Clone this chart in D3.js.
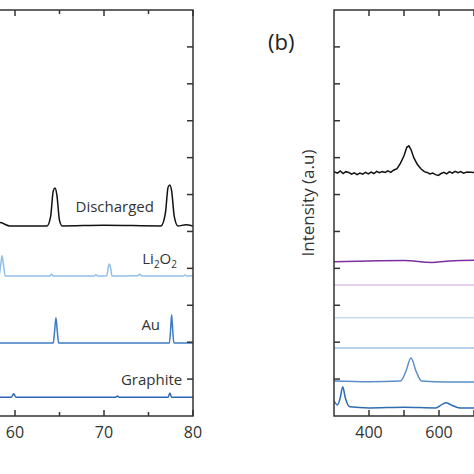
<!DOCTYPE html>
<html><head><meta charset="utf-8">
<script src="https://cdn.jsdelivr.net/npm/d3@7"></script>
<style>body{margin:0;background:#fff}</style>
</head><body>
<svg id="chart" width="474" height="474"></svg>
<script>
// panel (a) XRD, 2theta vs intensity (offset, a.u.)
const discharged = [[50,5.15],[57.6,5.16],[58.0,5.2],[58.4,5.24],[58.8,5.2],[59.4,5.15],[63.6,5.15],[64.0,5.4],[64.3,6.1],[64.5,6.18],[64.7,6.0],[65.0,5.3],[65.3,5.15],[70,5.17],[76.4,5.15],[76.9,5.5],[77.2,6.2],[77.4,6.26],[77.6,6.1],[77.9,5.4],[78.3,5.15],[79.2,5.18],[80,5.15]];
const li2o2 = [[50,3.79],[58.2,3.79],[58.4,4.1],[58.55,4.34],[58.7,4.1],[58.9,3.79],[63.9,3.79],[64.1,3.84],[64.3,3.79],[68.9,3.79],[69.1,3.83],[69.3,3.79],[70.3,3.8],[70.5,4.05],[70.6,4.12],[70.75,4.0],[70.9,3.79],[73.8,3.8],[74.0,3.84],[74.3,3.79],[78.9,3.79],[79.1,3.82],[79.3,3.79],[80,3.8]];
const au = [[50,1.98],[64.3,1.98],[64.45,2.3],[64.6,2.66],[64.75,2.3],[64.9,1.98],[77.35,1.98],[77.5,2.4],[77.6,2.74],[77.7,2.4],[77.85,1.98],[80,1.98]];
const graphite = [[50,0.51],[59.6,0.51],[59.85,0.6],[60.1,0.51],[71.3,0.51],[71.5,0.54],[71.7,0.51],[77.2,0.51],[77.4,0.62],[77.6,0.51],[80,0.51]];
const seriesA = [
  {name:"Discharged", pts:discharged, color:"#111"},
  {name:"Li2O2", pts:li2o2, color:"#8fbfe6"},
  {name:"Au", pts:au, color:"#3b7cc4"},
  {name:"Graphite", pts:graphite, color:"#2d65ae"}
];
const labelsA = [
  {text:"Discharged", x:66.8, y:5.52},
  {text:"Li", sub:"2", text2:"O", sub2:"2", x:74.3, y:4.12},
  {text:"Au", x:74.2, y:2.32},
  {text:"Graphite", x:71.9, y:0.83}
];
const ticksA = [60, 70, 80];

// panel (b) Raman shift vs intensity
const ramanBlack = [[300,6.62],[310,6.58],[318,6.64],[326,6.57],[334,6.62],[342,6.6],[350,6.55],[358,6.59],[366,6.54],[374,6.58],[382,6.55],[390,6.6],[398,6.56],[406,6.61],[414,6.57],[422,6.63],[430,6.59],[438,6.62],[446,6.6],[454,6.64],[462,6.6],[470,6.66],[480,6.7],[490,6.85],[500,7.05],[508,7.28],[514,7.32],[520,7.22],[528,7.0],[538,6.82],[548,6.7],[558,6.62],[566,6.6],[574,6.56],[582,6.58],[590,6.54],[598,6.52],[606,6.57],[614,6.6],[622,6.56],[630,6.62],[638,6.58],[646,6.63],[654,6.59],[662,6.62],[670,6.58],[680,6.61],[700,6.6],[800,6.6]];
const ramanPurple = [[300,4.18],[400,4.2],[500,4.21],[580,4.16],[620,4.19],[700,4.22],[800,4.2]];
const ramanLilac = [[300,3.55],[800,3.55]];
const ramanLight = [[300,2.66],[800,2.66]];
const ramanBlue = [[300,1.84],[800,1.84]];
const ramanMid = [[300,0.95],[400,0.93],[490,0.95],[505,1.2],[520,1.57],[535,1.2],[550,0.95],[620,0.92],[800,0.93]];
const ramanDark = [[300,0.4],[310,0.3],[318,0.5],[325,0.79],[332,0.5],[345,0.25],[400,0.22],[500,0.24],[590,0.22],[610,0.32],[620,0.36],[635,0.3],[660,0.22],[800,0.22]];
const seriesB = [
  {pts:ramanBlack, color:"#111", smooth:false},
  {pts:ramanPurple, color:"#7b2fa0", smooth:true},
  {pts:ramanLilac, color:"#dcbfe4", smooth:true},
  {pts:ramanLight, color:"#c6dcef", smooth:true},
  {pts:ramanBlue, color:"#9cc0e0", smooth:true},
  {pts:ramanMid, color:"#5b8fc8", smooth:true},
  {pts:ramanDark, color:"#2e6db0", smooth:true}
];
const ticksB = [400, 600];

const svg = d3.select("#chart");
const font = "'Open Sans', 'Noto Sans', sans-serif";
const yTop = 10, yBottom = 416;
const y = d3.scaleLinear().domain([0, 11]).range([yBottom, yTop]);
const yTicks = d3.range(1, 11);

// ---- panel a ----
const xa = d3.scaleLinear().domain([40, 80]).range([15 - 20 * 8.9, 193]);
const defs = svg.append("defs");
defs.append("clipPath").attr("id", "clipA").append("rect")
  .attr("x", 0).attr("y", yTop).attr("width", 193).attr("height", yBottom - yTop);
defs.append("clipPath").attr("id", "clipB").append("rect")
  .attr("x", 334).attr("y", yTop).attr("width", 200).attr("height", yBottom - yTop);

const lineA = d3.line().x(d => xa(d[0])).y(d => y(d[1])).curve(d3.curveMonotoneX);
const gA = svg.append("g").attr("clip-path", "url(#clipA)");
gA.selectAll("path").data(seriesA).enter().append("path")
  .attr("d", d => lineA(d.pts)).attr("fill", "none")
  .attr("stroke", d => d.color).attr("stroke-width", 1.5);

const lab = svg.append("g").attr("font-family", font).attr("font-size", 15).attr("fill", "#333");
labelsA.forEach(l => {
  const t = lab.append("text").attr("x", xa(l.x)).attr("y", y(l.y));
  t.append("tspan").text(l.text);
  if (l.sub) {
    t.append("tspan").attr("font-size", 10).attr("dy", 4).text(l.sub);
    t.append("tspan").attr("dy", -4).text(l.text2);
    t.append("tspan").attr("font-size", 10).attr("dy", 4).text(l.sub2);
  }
});

const frame = svg.append("g").attr("stroke", "#333").attr("stroke-width", 1.5).attr("fill", "none");
frame.append("path").attr("d", `M-5,${yTop}H193V${yBottom}H-5`);
const minorA = [55, 65, 75];
ticksA.concat([50]).forEach(v => {
  frame.append("line").attr("x1", xa(v)).attr("x2", xa(v)).attr("y1", yBottom).attr("y2", yBottom - 6);
  frame.append("line").attr("x1", xa(v)).attr("x2", xa(v)).attr("y1", yTop).attr("y2", yTop + 6);
});
minorA.forEach(v => {
  frame.append("line").attr("x1", xa(v)).attr("x2", xa(v)).attr("y1", yBottom).attr("y2", yBottom - 4);
  frame.append("line").attr("x1", xa(v)).attr("x2", xa(v)).attr("y1", yTop).attr("y2", yTop + 4);
});
yTicks.forEach(v => {
  frame.append("line").attr("x1", 193).attr("x2", 187).attr("y1", y(v)).attr("y2", y(v));
});
svg.append("g").attr("font-family", font).attr("font-size", 16).attr("fill", "#333")
  .selectAll("text").data(ticksA).enter().append("text")
  .attr("x", d => xa(d)).attr("y", 438).attr("text-anchor", "middle").text(d => d);

// ---- panel b ----
const xb = d3.scaleLinear().domain([300, 800]).range([334, 334 + 175]);
const lineB = d3.line().x(d => xb(d[0])).y(d => y(d[1]));
const lineBs = d3.line().x(d => xb(d[0])).y(d => y(d[1])).curve(d3.curveMonotoneX);
const gB = svg.append("g").attr("clip-path", "url(#clipB)");
gB.selectAll("path").data(seriesB).enter().append("path")
  .attr("d", d => d.smooth ? lineBs(d.pts) : lineB(d.pts)).attr("fill", "none")
  .attr("stroke", d => d.color).attr("stroke-width", 1.5);

const frameB = svg.append("g").attr("stroke", "#333").attr("stroke-width", 1.5).attr("fill", "none");
frameB.append("path").attr("d", `M480,${yTop}H334V${yBottom}H480`);
[400, 500, 600, 700].forEach(v => {
  frameB.append("line").attr("x1", xb(v)).attr("x2", xb(v)).attr("y1", yBottom).attr("y2", yBottom - 6);
  frameB.append("line").attr("x1", xb(v)).attr("x2", xb(v)).attr("y1", yTop).attr("y2", yTop + 6);
});
yTicks.forEach(v => {
  frameB.append("line").attr("x1", 334).attr("x2", 340).attr("y1", y(v)).attr("y2", y(v));
});
svg.append("g").attr("font-family", font).attr("font-size", 16).attr("fill", "#333")
  .selectAll("text").data(ticksB).enter().append("text")
  .attr("x", d => xb(d)).attr("y", 438).attr("text-anchor", "middle").text(d => d);

svg.append("text").attr("transform", "translate(314,203) rotate(-90)")
  .attr("text-anchor", "middle").attr("font-family", font).attr("font-size", 17)
  .attr("fill", "#333").text("Intensity (a.u)");
svg.append("text").attr("x", 268).attr("y", 50).attr("font-family", font)
  .attr("font-size", 22).attr("fill", "#222").text("(b)");
</script>
</body></html>
